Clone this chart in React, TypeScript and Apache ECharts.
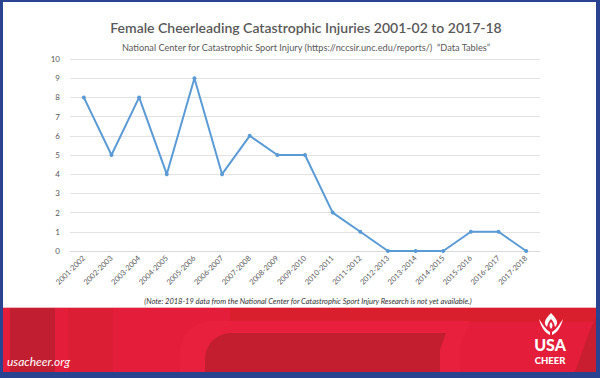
import React, { useEffect, useRef } from "react";
import * as echarts from "echarts";

const categories = [
  "2001-2002", "2002-2003", "2003-2004", "2004-2005", "2005-2006", "2006-2007",
  "2007-2008", "2008-2009", "2009-2010", "2010-2011", "2011-2012", "2012-2013",
  "2013-2014", "2014-2015", "2015-2016", "2016-2017", "2017-2018",
];
const injuries = [8, 5, 8, 4, 9, 4, 6, 5, 5, 2, 1, 0, 0, 0, 1, 1, 0];

const titleText = "Female Cheerleading Catastrophic Injuries 2001-02 to 2017-18";
const subtitleText = "National Center for Catastrophic Sport Injury (https://nccsir.unc.edu/reports/)  \u201cData Tables\u201d";
const noteText = "(Note: 2018-19 data from the National Center for Catastrophic Sport Injury Research is not yet available.)";

const flamePath =
  "M12 0 C6 6 4 10 8 14 C9 10 10 8 12 6 C14 8 15 10 16 14 C20 10 18 6 12 0 Z " +
  "M12 9 C10 11 10 14 12 16 C14 14 14 11 12 9 Z " +
  "M0 6 C2 14 6 20 11 22 L11 19 C7 17 4 12 0 6 Z " +
  "M24 6 C22 14 18 20 13 22 L13 19 C17 17 20 12 24 6 Z";

let registered = false;

export default function App() {
  const ref = useRef<HTMLDivElement>(null);
  useEffect(() => {
    document.body.style.margin = "0";
    if (!registered) {
      echarts.graphic.registerShape("flame", echarts.graphic.extendPath(flamePath, {}));
      registered = true;
    }
    const chart = echarts.init(ref.current!, null, { renderer: "svg" });
    const font = "Lato, 'Open Sans', sans-serif";
    chart.setOption({
      animation: false,
      backgroundColor: "#ffffff",
      grid: { left: 70, right: 60, top: 59, bottom: 127, containLabel: false },
      xAxis: {
        type: "category",
        data: categories,
        boundaryGap: true,
        axisLine: { show: true, lineStyle: { color: "#D9D9D9" } },
        axisTick: { show: false },
        axisLabel: { rotate: 45, fontSize: 7.5, color: "#595959", margin: 6, fontFamily: font, interval: 0 },
      },
      yAxis: {
        type: "value",
        min: 0,
        max: 10,
        interval: 1,
        axisLine: { show: false },
        axisTick: { show: false },
        axisLabel: { fontSize: 8, color: "#595959", margin: 10, fontFamily: font },
        splitLine: { lineStyle: { color: "#E3E3E3", width: 1 } },
      },
      series: [
        {
          type: "line",
          data: injuries,
          color: "#5B9BD5",
          lineStyle: { width: 2, color: "#5B9BD5" },
          symbol: "circle",
          symbolSize: 4,
          itemStyle: { color: "#5B9BD5" },
        },
      ],
      graphic: [
        // blue frame
        { type: "rect", silent: true, shape: { x: 0, y: 0, width: 600, height: 2 }, style: { fill: "#2A4390" } },
        { type: "rect", silent: true, shape: { x: 0, y: 0, width: 3, height: 378 }, style: { fill: "#2A4390" } },
        { type: "rect", silent: true, shape: { x: 596, y: 0, width: 4, height: 378 }, style: { fill: "#2A4390" } },
        { type: "rect", silent: true, shape: { x: 0, y: 372, width: 600, height: 6 }, style: { fill: "#2A4390" } },
        // red band
        { type: "rect", silent: true, shape: { x: 3, y: 307, width: 593, height: 65 }, style: { fill: "#E31D3A" } },
        { type: "rect", silent: true, shape: { x: 3, y: 307, width: 593, height: 1 }, style: { fill: "#F2B8BF" } },
        { type: "rect", silent: true, shape: { x: 10, y: 308, width: 45, height: 64 }, style: { fill: "#C21E31" } },
        { type: "rect", silent: true, shape: { x: 68, y: 308, width: 45, height: 64 }, style: { fill: "#DC1E34" } },
        { type: "polygon", silent: true, shape: { points: [[230, 308], [596, 308], [596, 322], [230, 322]] }, style: { fill: "#D91F2D" } },
        { type: "rect", silent: true, shape: { x: 180, y: 321, width: 280, height: 51, r: [32, 0, 0, 0] }, style: { fill: "#E8203E" } },
        { type: "polygon", silent: true, shape: { points: [[452, 321], [470, 321], [450, 372], [432, 372]] }, style: { fill: "#E8203E" } },
        { type: "rect", silent: true, shape: { x: 205, y: 333, width: 235, height: 39, r: [26, 0, 0, 0] }, style: { fill: "#C21E30" } },
        { type: "polygon", silent: true, shape: { points: [[440, 333], [446, 333], [432, 372], [440, 372]] }, style: { fill: "#C21E30" } },
        { type: "polygon", silent: true, shape: { points: [[590, 330], [596, 318], [596, 372], [575, 372]] }, style: { fill: "#C81E30" } },
        // titles
        { type: "text", silent: true, x: 306, y: 20, style: { text: titleText, fontSize: 14, fontWeight: 600, fill: "#595959", fontFamily: font, textAlign: "center" } },
        { type: "text", silent: true, x: 306, y: 43, style: { text: subtitleText, fontSize: 9.2, fill: "#595959", fontFamily: font, textAlign: "center" } },
        { type: "text", silent: true, x: 308, y: 297, style: { text: noteText, fontSize: 7.5, fontStyle: "italic", fill: "#333333", fontFamily: font, textAlign: "center" } },
        { type: "text", silent: true, x: 7, y: 355, style: { text: "usacheer.org", fontSize: 12, fontStyle: "italic", fill: "#ffffff", fontFamily: font } },
        // logo
        { type: "flame", silent: true, x: 539, y: 313, scaleX: 1.0, scaleY: 1.0, style: { fill: "#ffffff" } },
        { type: "text", silent: true, x: 550, y: 336, style: { text: "USA", fontSize: 16, fontWeight: 900, fill: "#ffffff", fontFamily: font, textAlign: "center" } },
        { type: "text", silent: true, x: 550, y: 355, style: { text: "CHEER", fontSize: 9.5, fontWeight: 900, fill: "#ffffff", fontFamily: font, textAlign: "center" } },
      ],
    });
    return () => chart.dispose();
  }, []);
  return <div ref={ref} style={{ width: 600, height: 378 }} />;
}
